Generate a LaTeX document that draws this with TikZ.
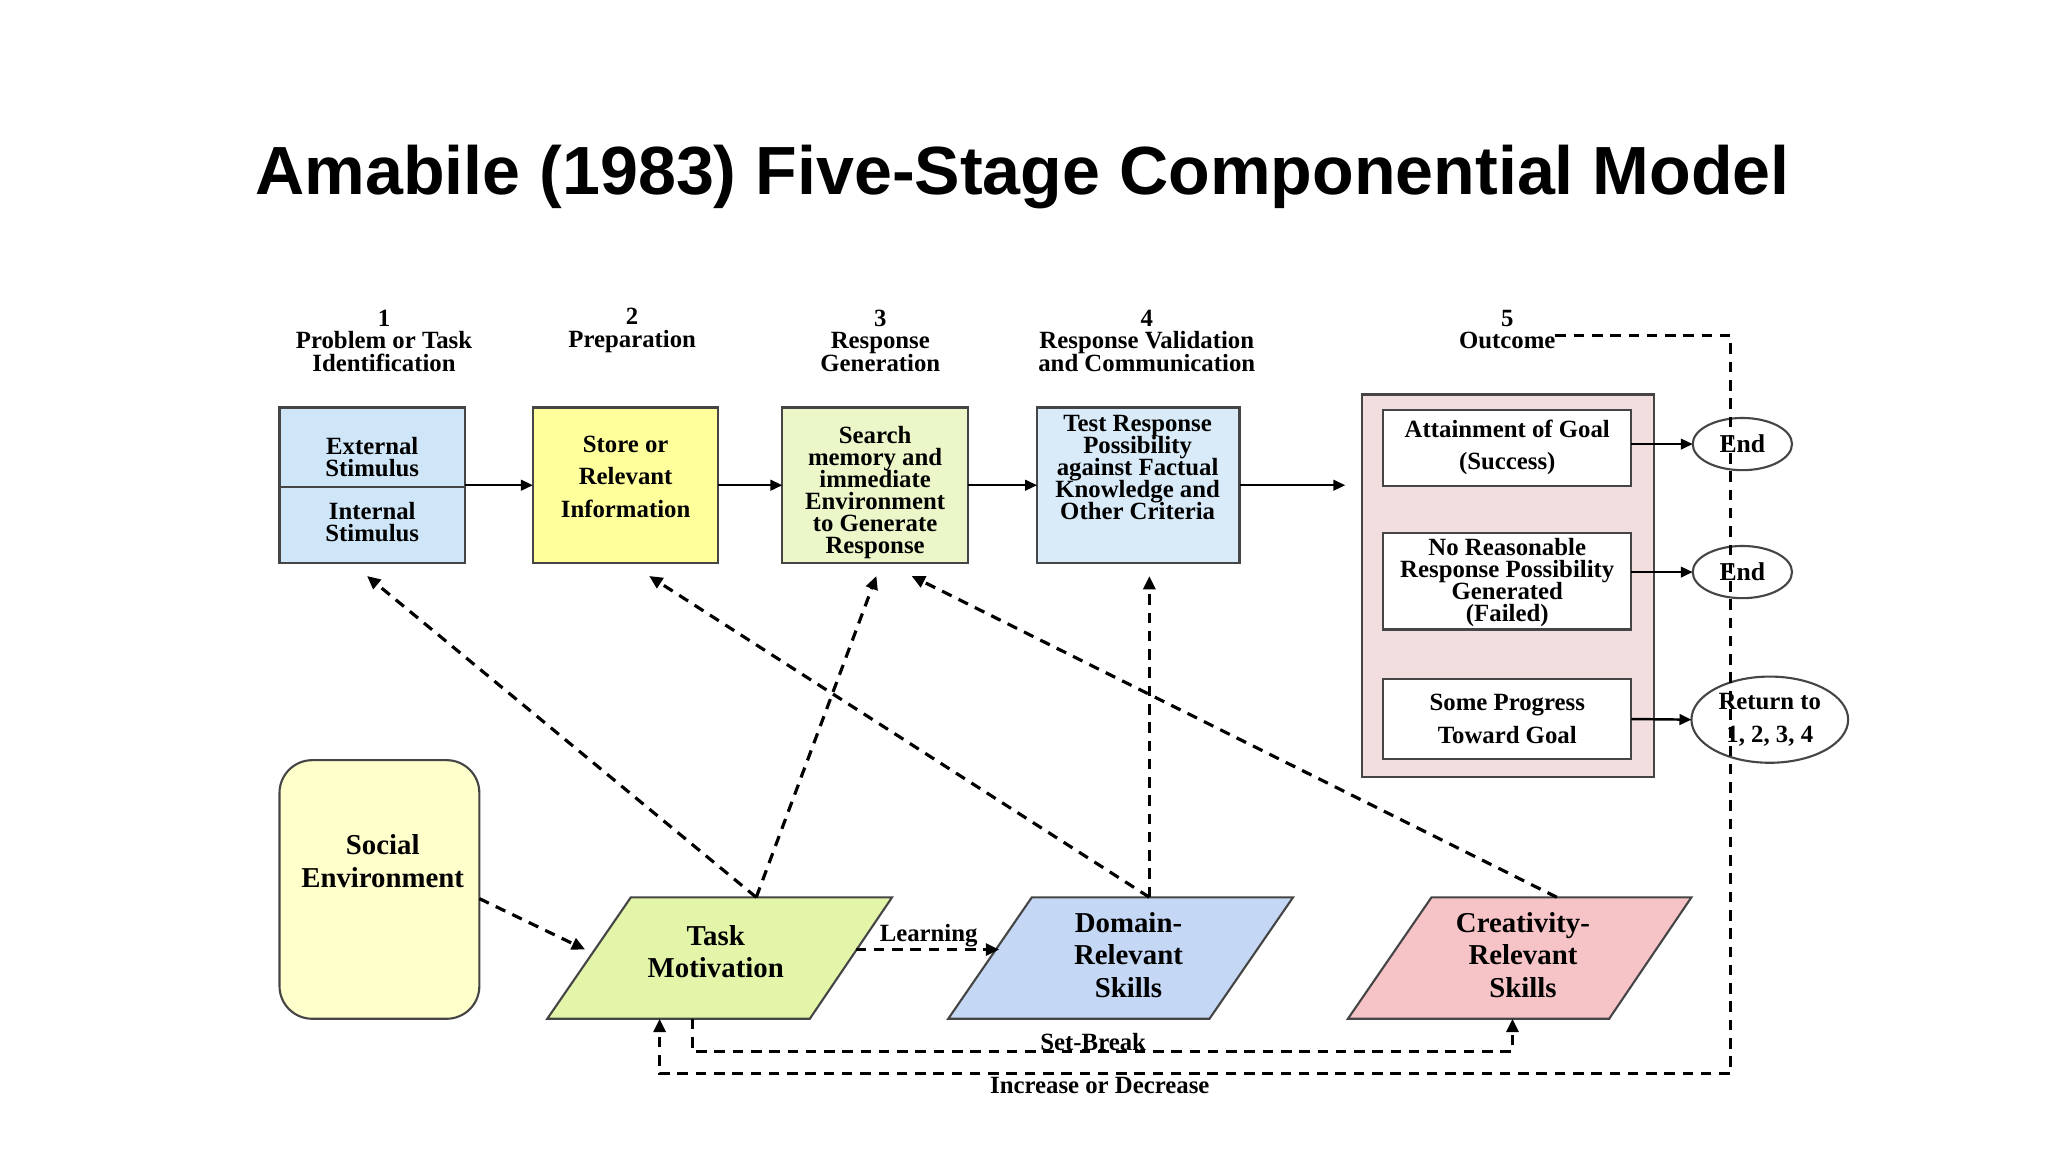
\documentclass[tikz,border=0pt]{standalone}
\usepackage{fontspec}
\setmainfont{Liberation Serif}
\newfontfamily\titlefont{Liberation Sans}
\usetikzlibrary{arrows.meta,shapes.geometric,fit}
\newcommand\mytightlines{\setlength{\lineskiplimit}{-6pt}\setlength{\lineskip}{0pt}}
\definecolor{bordergray}{HTML}{454545}
\definecolor{cone}{HTML}{CFE5F8}
\definecolor{ctwo}{HTML}{FFFF9C}
\definecolor{cthree}{HTML}{EBF7C9}
\definecolor{cfour}{HTML}{D9EBF8}
\definecolor{cout}{HTML}{F2DEDE}
\definecolor{csocial}{HTML}{FFFFCC}
\definecolor{ctask}{HTML}{E3F5A8}
\definecolor{cdomain}{HTML}{C4D8F5}
\definecolor{ccreat}{HTML}{F6C4C7}
\begin{document}
\begin{tikzpicture}[x=0.013061cm,y=-0.013061cm,
  every node/.style={inner sep=0pt, outer sep=0pt},
  box/.style={draw=bordergray, line width=0.6pt},
  lbl/.style={font=\bfseries\fontsize{7.05}{6.3}\selectfont\mytightlines, align=center},
  lblw/.style={font=\bfseries\fontsize{7.05}{9.26}\selectfont, align=center},
  big/.style={font=\bfseries\fontsize{8.2}{9.26}\selectfont, align=center},
  arr/.style={-{Triangle[length=3.4pt,width=3pt]}, line width=0.7pt, black},
  darr/.style={-{Triangle[length=3.8pt,width=3.4pt]}, line width=0.9pt, dash pattern=on 3pt off 2.2pt, black},
  eli/.style={draw=bordergray, line width=0.6pt, ellipse}
]
\useasboundingbox (0,0) rectangle (1568,882);
\fill[white] (0,0) rectangle (1568,882);

% title
\node[font=\titlefont\bfseries\fontsize{19.4}{23}\selectfont, anchor=base] (title) at (783,149) {Amabile (1983) Five-Stage Componential Model};

% stage headers
\node[lbl] (h1) at (294,261) {1\\Problem or Task\\Identification};
\node[lbl] (h2) at (484,253) {2\\Preparation};
\node[lbl] (h3) at (674,261) {3\\Response\\Generation};
\node[lbl] (h4) at (878,261) {4\\Response Validation\\and Communication};
\node[lbl] (h5n) at (1154,244) {5};
\node[lbl] (h5) at (1154,261) {Outcome};

% stage boxes
\node[box, fill=cone, fit={(214,312)(356,431)}] (b1) {};
\draw[box] (214,373) -- (356,373);
\node[lbl] (t1a) at (285,350) {External\\Stimulus};
\node[lbl] (t1b) at (285,400) {Internal\\Stimulus};
\node[box, fill=ctwo, fit={(408,312)(550,431)}] (b2) {};
\node[lblw] (t2) at (479,365) {Store or\\Relevant\\Information};
\node[box, fill=cthree, fit={(599,312)(741,431)}] (b3) {};
\node[lbl] (t3) at (670,377) {Search\\memory and\\immediate\\Environment\\to Generate\\Response};
\node[box, fill=cfour, fit={(794,312)(949,431)}] (b4) {};
\node[lbl] (t4) at (871,358) {Test Response\\Possibility\\against Factual\\Knowledge and\\Other Criteria};

% outcome
\node[box, fill=cout, fit={(1043,302)(1266,595)}] (out) {};
\node[box, fill=white, fit={(1059,314)(1249,372)}] (o1) {};
\node[lblw] (to1) at (1154,342.5) {Attainment of Goal\\(Success)};
\node[box, fill=white, fit={(1059,408)(1249,482)}] (o2) {};
\node[lbl] (to2) at (1154,446) {No Reasonable\\Response Possibility\\Generated\\(Failed)};
\node[box, fill=white, fit={(1059,520)(1249,581)}] (o3) {};
\node[lblw] (to3) at (1154,550.5) {Some Progress\\Toward Goal};

\node[eli, minimum width=0.993cm, minimum height=0.522cm, font=\bfseries\fontsize{7.3}{9}\selectfont] (e1) at (1334,340) {End};
\node[eli, minimum width=0.993cm, minimum height=0.522cm, font=\bfseries\fontsize{7.3}{9}\selectfont] (e2) at (1334,438) {End};
\node[eli, minimum width=1.567cm, minimum height=0.862cm, lblw] (e3) at (1355,551) {Return to\\1, 2, 3, 4};

% solid arrows
\draw[arr] (b1.east) -- (b2.west);
\draw[arr] (b2.east) -- (b3.west);
\draw[arr] (b3.east) -- (b4.west);
\draw[arr, shorten >=0.17cm] (b4.east) -- (b4.east -| out.west);
\draw[arr] (o1.east |- e1) -- (e1.west);
\draw[arr] (o2.east |- e2) -- (e2.west);
\draw[arr] (o3.east) -- (e3.west);

% bottom components
\node[box, fill=csocial, rounded corners=0.327cm, fit={(214,582)(367,780)}] (se) {};
\node[big] (tse) at (293,659.5) {Social\\Environment};

\draw[box, fill=ctask] (419,780) -- (620,780) -- (683,687) -- (483,687) -- cycle;
\node[big] (ttm) at (548,728.5) {Task\\Motivation};
\draw[box, fill=cdomain] (726,780) -- (926,780) -- (990,687) -- (790,687) -- cycle;
\node[big] (tdr) at (864,731) {Domain-\\Relevant\\Skills};
\draw[box, fill=ccreat] (1032,780) -- (1232,780) -- (1295,687) -- (1096,687) -- cycle;
\node[big] (tcr) at (1166,731) {Creativity-\\Relevant\\Skills};

% named points on shapes
\coordinate (tmTop) at (579,687);
\coordinate (tmB1) at (505,780);
\coordinate (tmB2) at (530,780);
\coordinate (tmL) at (448,727);
\coordinate (tmR) at (655,727);
\coordinate (dTop) at (880,687);
\coordinate (dL) at (765,727);
\coordinate (cTop) at (1192,687);
\coordinate (crB) at (1158,780);
\coordinate (seR) at (367,688);
\coordinate (a1) at (281,441);
\coordinate (a2) at (497,441);
\coordinate (a3) at (671,441);
\coordinate (a3b) at (698,441);
\coordinate (a4) at (880,441);
\coordinate (loopR) at (1325,822);
\coordinate (sb) at (844,805);

% dashed influences
\draw[darr] (tmTop) -- (a1);
\draw[darr] (tmTop) -- (a3);
\draw[darr] (dTop) -- (a2);
\draw[darr] (dTop) -- (a4);
\draw[darr] (cTop) -- (a3b);
\draw[darr] (seR) -- (tmL);
\draw[darr] (tmR) -- (dL);
\node[lbl, anchor=base] (learn) at (711,721) {Learning};

\draw[darr] (tmB2) |- (sb) -| (crB);
\node[lbl, anchor=base] (setb) at (837,804) {Set-Break};

\draw[darr] ([yshift=0.05cm]h5.east) -| (loopR) -| (tmB1);
\node[lbl, anchor=base] (incr) at (842,837) {Increase or Decrease};
\end{tikzpicture}
\end{document}
